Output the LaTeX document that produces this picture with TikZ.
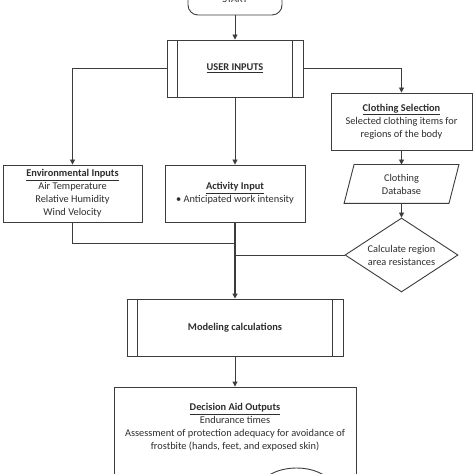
\documentclass[tikz,border=0pt]{standalone}
\usepackage{fontspec}
\setmainfont{Carlito}
\usetikzlibrary{shapes.geometric,arrows.meta,calc}
\definecolor{linec}{HTML}{3C3C3C}
\definecolor{txt}{HTML}{2E2E2E}
\begin{document}
\begin{tikzpicture}[x=1bp,y=-1bp,
  base/.style={line width=0.9bp, draw=linec, fill=white, text=txt, align=center, inner sep=0pt,
    font=\fontsize{10.4}{13}\selectfont},
  box/.style={base, rectangle},
  arr/.style={draw=linec, line width=0.9bp, -{Triangle[length=5bp,width=5bp]}},
  ln/.style={draw=linec, line width=0.9bp}]
\clip (0,0) rectangle (474,474);
\fill[white] (0,0) rectangle (474,474);

% start terminal
\node[box, rounded corners=10bp, minimum width=94bp, minimum height=32bp] (start) at (235,-1) {\raisebox{-3bp}{START}};

% user inputs
\node[box, minimum width=136bp, minimum height=57bp] (user) at (235,68.5) {\bfseries\underline{USER INPUTS}};
\draw[ln] ($(user.north west)+(11,0)$) -- ($(user.south west)+(11,0)$);
\draw[ln] ($(user.north east)+(-11,0)$) -- ($(user.south east)+(-11,0)$);

% clothing selection
\node[box, minimum width=141bp, minimum height=57bp] (cloth) at (401.5,121.5)
  {\bfseries\underline{Clothing Selection}\\Selected clothing items for\\regions of the body};

% clothing database
\node[base, draw=none, fill=none, minimum width=104bp, minimum height=38bp] (db) at (401.5,184) {Clothing\\Database};
\draw[ln] ($(db.north west)+(5,0)$) -- ($(db.north east)+(5,0)$) -- ($(db.south east)+(-5,0)$) -- ($(db.south west)+(-5,0)$) -- cycle;

% diamond
\node[base, diamond, aspect=1.53, minimum width=113bp, minimum height=74bp] (diam) at (401.5,255) {Calculate region\\area resistances};

% environmental inputs
\node[box, minimum width=139bp, minimum height=57bp] (env) at (72.5,193.5)
  {\bfseries\underline{Environmental Inputs}\\Air Temperature\\Relative Humidity\\Wind Velocity};

% activity input
\node[box, minimum width=140bp, minimum height=57bp] (act) at (235,193.5)
  {\bfseries\underline{Activity Input}\\\textbullet\ Anticipated work intensity};

% modeling calculations
\node[box, minimum width=216bp, minimum height=57bp] (model) at (235,327.5) {\bfseries Modeling calculations};
\draw[ln] ($(model.north west)+(11,0)$) -- ($(model.south west)+(11,0)$);
\draw[ln] ($(model.north east)+(-11,0)$) -- ($(model.south east)+(-11,0)$);

% decision aid outputs
\node[box, minimum width=242bp, minimum height=130bp] (dec) at (235,452) {};
\node[base, draw=none, fill=none] (dect) at (235,427.5)
  {\bfseries\underline{Decision Aid Outputs}\\Endurance times\\Assessment of protection adequacy for avoidance of\\frostbite (hands, feet, and exposed skin)};
\node[base, ellipse, minimum width=74bp, minimum height=44bp] (endt) at (296.5,490) {};

% connectors
\coordinate (j1) at (235,243);
\draw[arr] (start) -- (user);
\draw[arr] (user.west) -| (env.north);
\draw[arr] (user) -- (act);
\draw[arr] (user.east) -| (cloth.north);
\draw[arr] (cloth) -- (db.north);
\draw[arr] (db.south) -- (diam);
\draw[ln] (env.south) |- (j1);
\draw[ln] (diam.west) -- (diam.west -| act.south);
\draw[arr, line width=1.2bp] (act) -- (model);
\draw[arr] (model) -- (dec);
\end{tikzpicture}
\end{document}
